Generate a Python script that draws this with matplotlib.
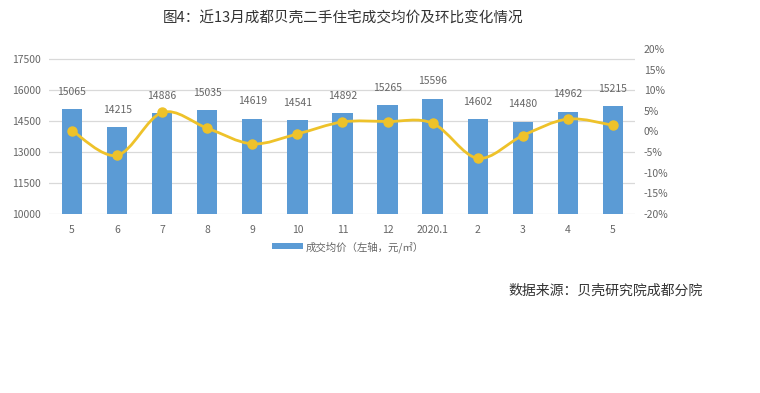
import matplotlib
matplotlib.use("Agg")
import matplotlib.pyplot as plt
from matplotlib.path import Path
from matplotlib.patches import PathPatch, Patch
from matplotlib.ticker import FuncFormatter
import numpy as np

plt.rcParams['font.family'] = ['Noto Sans CJK SC', 'DejaVu Sans']

months = ['5', '6', '7', '8', '9', '10', '11', '12', '2020.1', '2', '3', '4', '5']
avg_price = [15065, 14215, 14886, 15035, 14619, 14541, 14892, 15265, 15596, 14602, 14480, 14962, 15215]
mom_change = [0.2, -5.8, 4.6, 0.8, -3.0, -0.6, 2.3, 2.4, 2.0, -6.5, -1.0, 3.0, 1.5]
left_ticks = [10000, 11500, 13000, 14500, 16000, 17500]
right_ticks = [-20, -15, -10, -5, 0, 5, 10, 15, 20]

bar_color = '#5B9BD5'
line_color = '#EEC22A'
text_gray = '#666666'

fig = plt.figure(figsize=(7.6, 3.93), dpi=100)
ax = fig.add_axes([0.0651, 0.4555, 0.771, 0.42])
x = np.arange(len(months))
ax.bar(x, avg_price, width=0.45, color=bar_color, zorder=2)
ax.set_ylim(10000, 18000)
ax.set_xlim(-0.5, len(months) - 0.5)
ax.set_yticks(left_ticks)
ax.set_xticks(x)
ax.set_xticklabels(months)
ax.grid(axis='y', color='#D9D9D9', linewidth=0.9, zorder=0)
for s in ax.spines.values():
    s.set_visible(False)
ax.tick_params(axis='both', length=0, labelsize=7.5, colors=text_gray)
ax.tick_params(axis='x', pad=8)
ax.tick_params(axis='y', pad=6)
for xi, v in zip(x, avg_price):
    ax.annotate(str(v), (xi, v), xytext=(0, 9), textcoords='offset points',
                ha='center', va='bottom', fontsize=7.5, color=text_gray)

ax2 = ax.twinx()
ax2.set_ylim(-20, 20)
ax2.set_yticks(right_ticks)
ax2.yaxis.set_major_formatter(FuncFormatter(lambda v, p: f'{int(v)}%'))
for s in ax2.spines.values():
    s.set_visible(False)
ax2.tick_params(axis='y', length=0, labelsize=7.5, colors=text_gray, pad=6)

# smooth line (Catmull-Rom as cubic Bezier, drawn in data coords)
px = np.array(x, dtype=float)
py = np.array(mom_change, dtype=float)
verts = [(px[0], py[0])]
codes = [Path.MOVETO]
n = len(px)
for i in range(n - 1):
    p0 = (px[max(i - 1, 0)], py[max(i - 1, 0)])
    p1 = (px[i], py[i])
    p2 = (px[i + 1], py[i + 1])
    p3 = (px[min(i + 2, n - 1)], py[min(i + 2, n - 1)])
    t = 1 / 6
    c1 = (p1[0] + (p2[0] - p0[0]) * t, p1[1] + (p2[1] - p0[1]) * t)
    c2 = (p2[0] - (p3[0] - p1[0]) * t, p2[1] - (p3[1] - p1[1]) * t)
    verts += [c1, c2, p2]
    codes += [Path.CURVE4] * 3
ax2.add_patch(PathPatch(Path(verts, codes), facecolor='none', edgecolor=line_color,
                        linewidth=2.0, zorder=3))
ax2.plot(px, py, linestyle='none', marker='o', markersize=6.5, color=line_color, zorder=4)

fig.legend(handles=[Patch(facecolor=bar_color)], labels=['成交均价（左轴，元/㎡）'],
           loc='center left', bbox_to_anchor=(0.345, 0.372), frameon=False,
           fontsize=7.5, labelcolor=text_gray, handlelength=3.0, handleheight=0.5,
           handletextpad=0.3)

fig.text(0.452, 0.953, '图4：近13月成都贝壳二手住宅成交均价及环比变化情况',
         ha='center', va='center', fontsize=10.5, color='#333333')
fig.text(0.925, 0.259, '数据来源：贝壳研究院成都分院', ha='right', va='center',
         fontsize=10, color='#333333')

fig.savefig('out.png', dpi=100, facecolor='white')
